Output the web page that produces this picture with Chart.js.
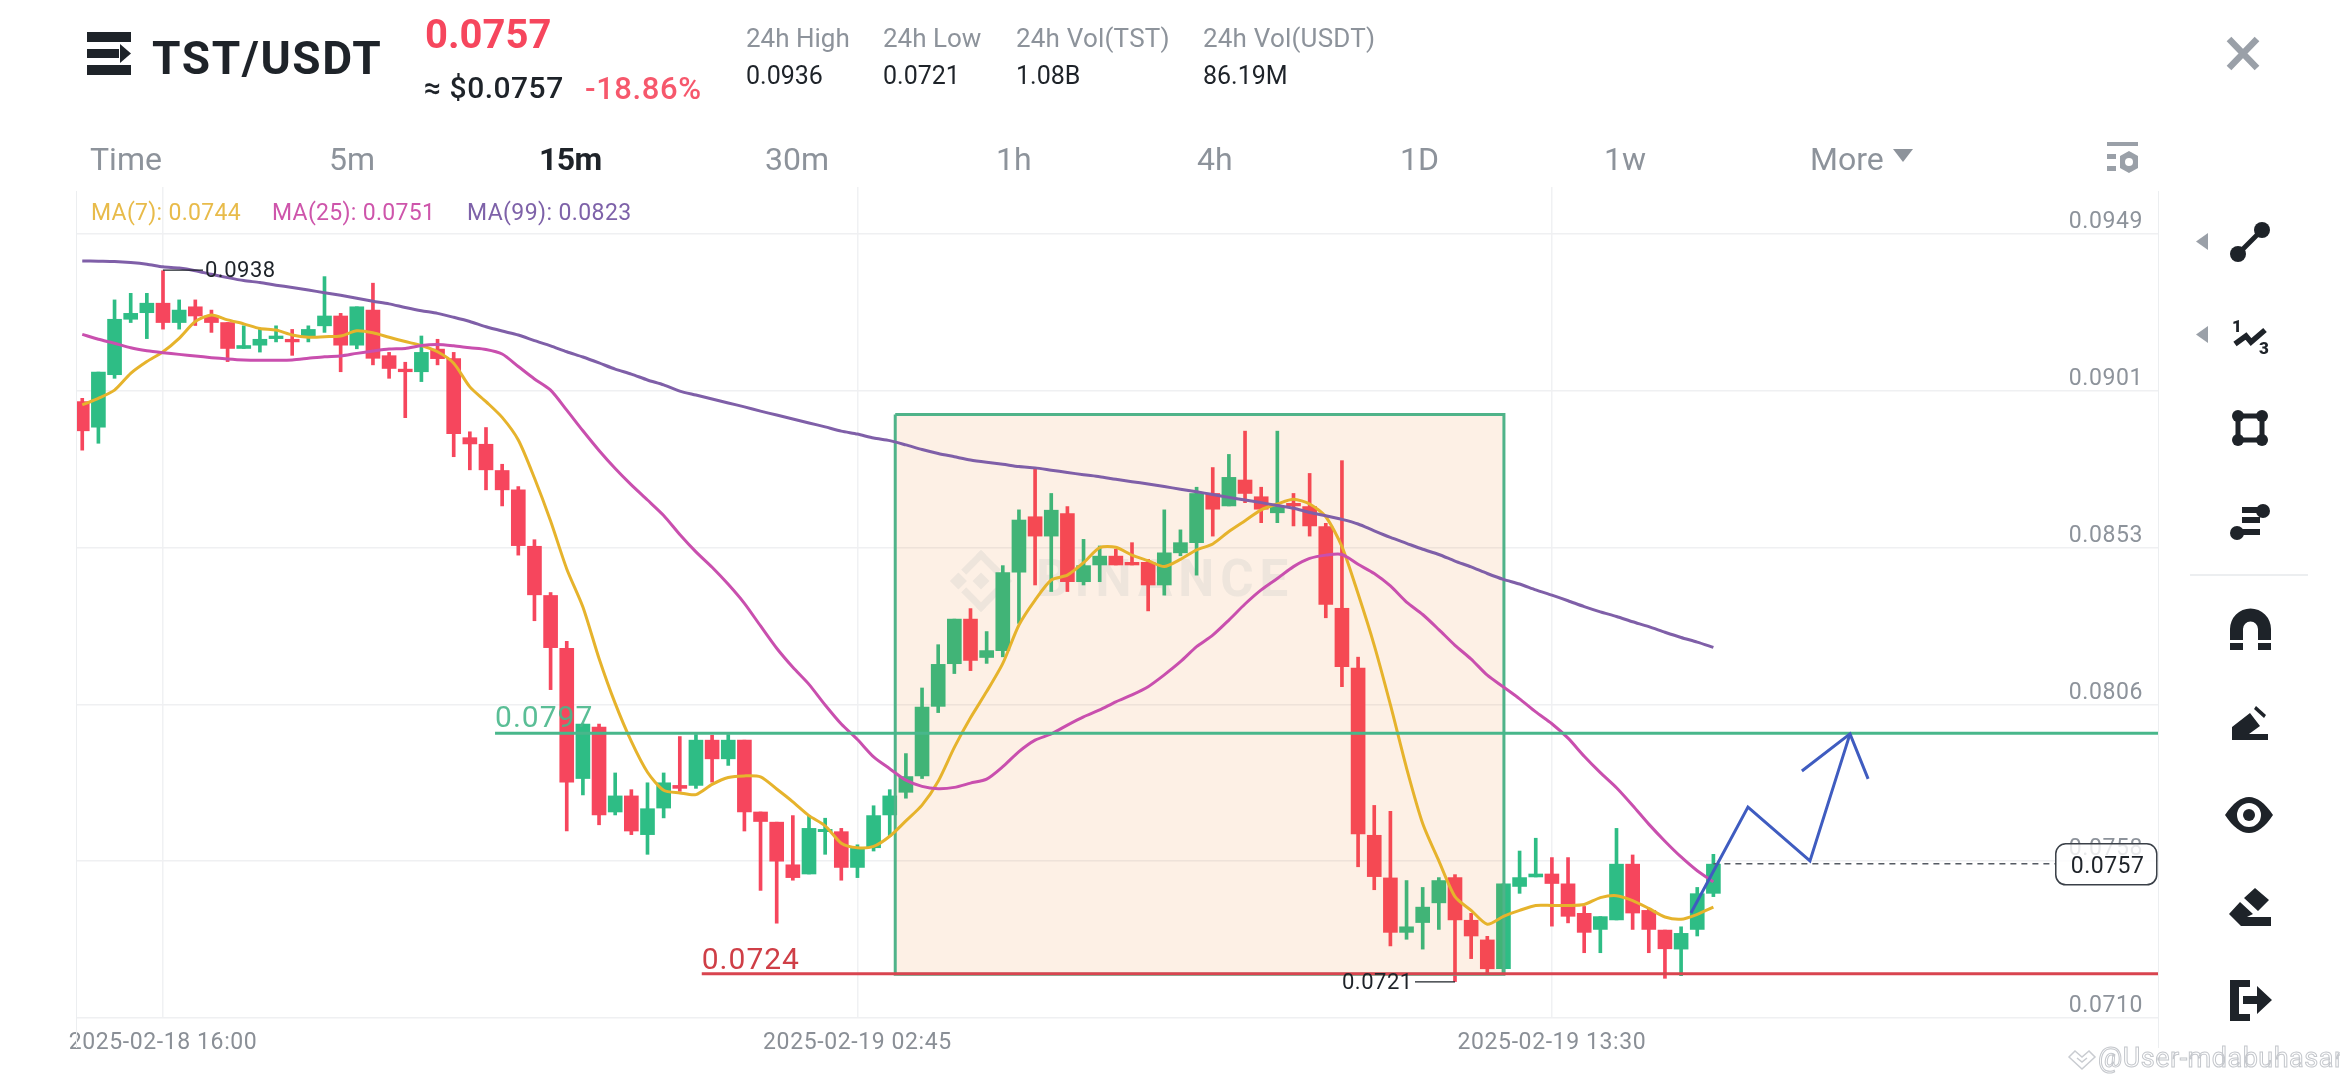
<!DOCTYPE html>
<html>
<head>
<meta charset="utf-8">
<title>TST/USDT</title>
<script src="https://cdn.jsdelivr.net/npm/chart.js@4/dist/chart.umd.min.js"></script>
<style>
  html, body { margin: 0; padding: 0; background: #fff; }
  body { width: 2340px; height: 1080px; position: relative; overflow: hidden; font-family: Roboto, sans-serif; color: #1e2329; }
  canvas { position: absolute; left: 0; top: 0; }
  .t { position: absolute; white-space: nowrap; line-height: 1; }
  .gray { color: #8d939b; }
  .red { color: #f6465d; }
  svg { position: absolute; overflow: visible; }
  .rule { position: absolute; background: #eceef0; }
</style>
</head>
<body>
<canvas id="chart" width="2340" height="1080"></canvas>

<div class="rule" style="left:76px;top:191px;width:1px;height:857px"></div>
<div class="rule" style="left:2158px;top:191px;width:1px;height:857px"></div>
<div class="rule" style="left:2190px;top:574px;width:118px;height:2px"></div>

<svg style="left:87px;top:32px" width="44" height="43" fill="#1e2329">
  <rect width="44" height="10"/><rect y="33" width="44" height="10"/><rect y="17" width="32" height="9"/><path d="M33 12l11 9.500-11 9.500z"/>
</svg>
<div class="t" style="left:152px;top:35px;font-size:46px;font-weight:700;letter-spacing:1.600px">TST/USDT</div>
<div class="t red" style="left:425px;top:15px;font-size:40px;font-weight:700">0.0757</div>
<div class="t" style="left:424px;top:73px;font-size:30px;font-weight:500;letter-spacing:.5px">≈ $0.0757</div>
<div class="t red" style="left:585px;top:73px;font-size:31px;font-weight:500;letter-spacing:.6px;opacity:.9">-18.86%</div>

<div class="t gray" style="left:746px;top:25px;font-size:26px">24h High</div>
<div class="t gray" style="left:883px;top:25px;font-size:26px">24h Low</div>
<div class="t gray" style="left:1016px;top:25px;font-size:26px;letter-spacing:.2px">24h Vol(TST)</div>
<div class="t gray" style="left:1203px;top:25px;font-size:26px;letter-spacing:.2px">24h Vol(USDT)</div>
<div class="t" style="left:746px;top:63px;font-size:25px">0.0936</div>
<div class="t" style="left:883px;top:63px;font-size:25px">0.0721</div>
<div class="t" style="left:1016px;top:63px;font-size:25px">1.08B</div>
<div class="t" style="left:1203px;top:63px;font-size:25px">86.19M</div>

<div class="t gray" style="left:90px;top:143px;font-size:32px">Time</div>
<div class="t gray" style="left:329px;top:143px;font-size:32px">5m</div>
<div class="t" style="left:539px;top:143px;font-size:32px;font-weight:700;letter-spacing:-.6px">15m</div>
<div class="t gray" style="left:765px;top:143px;font-size:32px">30m</div>
<div class="t gray" style="left:996px;top:143px;font-size:32px">1h</div>
<div class="t gray" style="left:1197px;top:143px;font-size:32px">4h</div>
<div class="t gray" style="left:1400px;top:143px;font-size:32px">1D</div>
<div class="t gray" style="left:1604px;top:143px;font-size:32px">1w</div>
<div class="t gray" style="left:1810px;top:143px;font-size:32px">More</div>
<svg style="left:1893px;top:149px" width="22" height="14" fill="#8d939b"><path d="M0 0h20l-10 13z"/></svg>
<svg style="left:2107px;top:142px" width="31" height="31" fill="#9aa0a8">
  <rect width="31" height="4"/><rect y="12" width="9" height="5"/><rect y="24" width="9" height="5"/>
  <path d="M22 9l9 5v12l-9 5-9-5V14zM22 16a4 4 0 100 8 4 4 0 000-8z" fill-rule="evenodd"/>
</svg>

<div class="t" style="left:91px;top:201px;font-size:23px;letter-spacing:.3px;color:#e8bb4a">MA(7): 0.0744</div>
<div class="t" style="left:272px;top:201px;font-size:23px;letter-spacing:.3px;color:#ce55ab">MA(25): 0.0751</div>
<div class="t" style="left:467px;top:201px;font-size:23px;letter-spacing:.4px;color:#7e62a9">MA(99): 0.0823</div>

<svg style="left:2227px;top:37px" width="32" height="33" stroke="#9aa0a8" stroke-width="6.500"><path d="M2 2l28 29M30 2L2 31"/></svg>
<svg style="left:2196px;top:233px" width="12" height="18" fill="#9aa0a8"><path d="M12 0v17L0 8.500z"/></svg>
<svg style="left:2196px;top:326px" width="12" height="18" fill="#9aa0a8"><path d="M12 0v17L0 8.500z"/></svg>
<svg style="left:2230px;top:222px" width="40" height="40" fill="#1e2329">
  <circle cx="8" cy="32" r="8"/><circle cx="32" cy="8" r="8"/><path d="M7 31l24-24 2 2-24 24z" stroke="#1e2329" stroke-width="2"/>
</svg>
<svg style="left:2232px;top:318px" width="38" height="38" fill="#1e2329">
  <path d="M3 26l11-8 5 6 14-12" fill="none" stroke="#1e2329" stroke-width="5.500"/>
  <text x="0" y="14" font-size="17" font-weight="900" font-family="Roboto">1</text>
  <text x="27" y="36" font-size="17" font-weight="900" font-family="Roboto">3</text>
</svg>
<svg style="left:2232px;top:410px" width="36" height="36" fill="none" stroke="#1e2329" stroke-width="5">
  <rect x="6" y="6" width="24" height="24"/>
  <g fill="#1e2329" stroke="none"><circle cx="6" cy="6" r="6"/><circle cx="30" cy="6" r="6"/><circle cx="6" cy="30" r="6"/><circle cx="30" cy="30" r="6"/></g>
</svg>
<svg style="left:2230px;top:504px" width="40" height="36" fill="#1e2329">
  <circle cx="33" cy="7" r="7"/><circle cx="7" cy="29" r="7"/><rect x="12" y="3" width="18" height="6"/><rect x="12" y="13" width="18" height="6"/><rect x="10" y="25" width="20" height="6"/>
</svg>
<svg style="left:2230px;top:609px" width="41" height="41" fill="#1e2329">
  <path d="M0 20a20.500 20.500 0 0141 0v11H28V20a7.500 7.500 0 00-15 0v11H0z"/><rect y="34" width="13" height="7"/><rect x="28" y="34" width="13" height="7"/>
</svg>
<svg style="left:2232px;top:706px" width="36" height="34" fill="#1e2329">
  <path d="M0 34V21L18 7l10 13-11 8h19v6z"/><path d="M24 0l10 9-2 3-10-9z"/>
</svg>
<svg style="left:2225px;top:797px" width="48" height="36" fill="#1e2329">
  <path d="M0 18C8 6 16 0 24 0s16 6 24 18c-8 12-16 18-24 18S8 30 0 18zM24 6a12 12 0 100 24 12 12 0 000-24z" fill-rule="evenodd"/><circle cx="24" cy="18" r="6"/>
</svg>
<svg style="left:2229px;top:888px" width="42" height="38" fill="#1e2329">
  <path d="M26 0l14 12-11 11-14-13zM11 14l13 12-6 3h24v9H12L0 26z"/>
</svg>
<svg style="left:2230px;top:980px" width="42" height="41" fill="#1e2329">
  <path d="M0 0h20v7H9v27h11v7H0z"/><path d="M13 16h14V6l15 14-15 14V24H13z"/>
</svg>

<svg style="left:2068px;top:1048px" width="28" height="22" fill="none" stroke="#c9ccd1" stroke-width="1.500">
  <path d="M1 9l6-6 7 6 7-6 6 6-13 12zM9 10l5 4 5-4"/>
</svg>
<div class="t" style="left:2098px;top:1045px;font-size:27px;color:#fff;-webkit-text-stroke:1px #c4c7cc;letter-spacing:.5px">@User-mdabuhasan</div>

<script>
// candles, 15m, 2025-02-18 15:00 (index 0) onwards
var opens = [
  0.08979,0.08901,0.09061,0.09230,0.09250,0.09279,0.09220,0.09268,0.09240,0.09220,
  0.09141,0.09151,0.09171,0.09169,0.09179,0.09210,0.09240,0.09151,0.09258,0.09119,
  0.09078,0.09070,0.09139,0.09110,0.08869,0.08849,0.08769,0.08710,0.08538,0.08388,
  0.08227,0.07830,0.07987,0.07728,0.07777,0.07659,0.07740,0.07809,0.07809,0.07947,
  0.07890,0.07947,0.07728,0.07697,0.07567,0.07539,0.07668,0.07668,0.07559,0.07619,
  0.07719,0.07788,0.07838,0.08050,0.08180,0.08316,0.08199,0.08220,0.08459,0.08628,
  0.08569,0.08638,0.08430,0.08481,0.08508,0.08489,0.08489,0.08420,0.08518,0.08549,
  0.08699,0.08661,0.08740,0.08689,0.08640,0.08669,0.08659,0.08598,0.08349,0.08167,
  0.07657,0.07527,0.07361,0.07391,0.07451,0.07528,0.07398,0.07338,0.07250,0.07501,
  0.07530,0.07539,0.07509,0.07419,0.07370,0.07399,0.07569,0.07428,0.07368,0.07310,
  0.07370,0.07480]
var highs = [
  0.08989,0.09069,0.09289,0.09309,0.09309,0.09378,0.09289,0.09289,0.09258,0.09220,
  0.09210,0.09199,0.09210,0.09199,0.09210,0.09360,0.09248,0.09268,0.09340,0.09129,
  0.09099,0.09179,0.09169,0.09129,0.08887,0.08900,0.08788,0.08720,0.08558,0.08397,
  0.08248,0.07996,0.07996,0.07847,0.07796,0.07817,0.07847,0.07958,0.07964,0.07962,
  0.07964,0.07947,0.07728,0.07697,0.07717,0.07717,0.07709,0.07678,0.07628,0.07747,
  0.07796,0.07906,0.08106,0.08238,0.08316,0.08348,0.08278,0.08479,0.08649,0.08775,
  0.08699,0.08659,0.08559,0.08539,0.08529,0.08549,0.08498,0.08649,0.08588,0.08718,
  0.08778,0.08818,0.08889,0.08718,0.08889,0.08699,0.08760,0.08608,0.08799,0.08200,
  0.07748,0.07730,0.07519,0.07498,0.07528,0.07537,0.07419,0.07349,0.07509,0.07609,
  0.07648,0.07589,0.07589,0.07440,0.07409,0.07678,0.07597,0.07434,0.07368,0.07378,
  0.07498,0.07599]
var lows = [
  0.08831,0.08852,0.09050,0.09220,0.09171,0.09200,0.09200,0.09211,0.09190,0.09101,
  0.09141,0.09130,0.09161,0.09120,0.09161,0.09190,0.09070,0.09140,0.09091,0.09050,
  0.08930,0.09040,0.09091,0.08811,0.08771,0.08710,0.08661,0.08511,0.08311,0.08101,
  0.07670,0.07780,0.07689,0.07719,0.07659,0.07599,0.07710,0.07791,0.07800,0.07819,
  0.07870,0.07670,0.07489,0.07389,0.07520,0.07539,0.07599,0.07520,0.07528,0.07609,
  0.07654,0.07770,0.07830,0.08031,0.08150,0.08159,0.08181,0.08201,0.08303,0.08420,
  0.08400,0.08400,0.08420,0.08430,0.08481,0.08481,0.08341,0.08389,0.08509,0.08450,
  0.08569,0.08661,0.08671,0.08610,0.08610,0.08600,0.08569,0.08320,0.08110,0.07561,
  0.07491,0.07320,0.07340,0.07310,0.07370,0.07211,0.07281,0.07235,0.07238,0.07480,
  0.07530,0.07380,0.07390,0.07299,0.07299,0.07399,0.07370,0.07299,0.07221,0.07229,
  0.07350,0.07470]
var closes = [
  0.08890,0.09069,0.09230,0.09248,0.09279,0.09220,0.09258,0.09240,0.09220,0.09141,
  0.09150,0.09169,0.09179,0.09161,0.09199,0.09240,0.09151,0.09268,0.09111,0.09080,
  0.09070,0.09129,0.09110,0.08881,0.08850,0.08771,0.08710,0.08540,0.08390,0.08229,
  0.07819,0.07996,0.07719,0.07777,0.07670,0.07738,0.07817,0.07800,0.07947,0.07890,
  0.07947,0.07728,0.07699,0.07578,0.07528,0.07678,0.07675,0.07559,0.07617,0.07717,
  0.07777,0.07836,0.08048,0.08178,0.08316,0.08190,0.08220,0.08458,0.08618,0.08569,
  0.08648,0.08430,0.08479,0.08508,0.08481,0.08481,0.08420,0.08518,0.08549,0.08699,
  0.08651,0.08748,0.08699,0.08651,0.08659,0.08661,0.08600,0.08361,0.08171,0.07661,
  0.07531,0.07361,0.07378,0.07438,0.07519,0.07399,0.07350,0.07250,0.07509,0.07528,
  0.07539,0.07510,0.07410,0.07361,0.07409,0.07569,0.07420,0.07370,0.07311,0.07358,
  0.07479,0.07569]

var ma7 = [
  0.08969,0.08989,0.09014,0.09065,0.09101,0.09131,0.09172,0.09223,0.09243,0.09228,
  0.09216,0.09202,0.09197,0.09182,0.09175,0.09177,0.09179,0.09195,0.09189,0.09175,
  0.09162,0.09150,0.09131,0.09096,0.09024,0.08979,0.08931,0.08862,0.08746,0.08615,
  0.08469,0.08353,0.08196,0.08059,0.07943,0.07849,0.07794,0.07786,0.07781,0.07812,
  0.07833,0.07838,0.07835,0.07798,0.07759,0.07717,0.07686,0.07633,0.07619,0.07623,
  0.07654,0.07701,0.07749,0.07822,0.07925,0.08015,0.08095,0.08181,0.08298,0.08374,
  0.08435,0.08450,0.08488,0.08534,0.08535,0.08511,0.08494,0.08476,0.08498,0.08527,
  0.08545,0.08583,0.08616,0.08649,0.08667,0.08681,0.08667,0.08628,0.08537,0.08393,
  0.08236,0.08055,0.07862,0.07693,0.07579,0.07470,0.07428,0.07386,0.07410,0.07428,
  0.07443,0.07443,0.07443,0.07446,0.07467,0.07473,0.07458,0.07434,0.07408,0.07401,
  0.07416,0.07438]
var ma25 = [
  0.09184,0.09169,0.09157,0.09143,0.09134,0.09128,0.09123,0.09118,0.09113,0.09109,
  0.09106,0.09105,0.09105,0.09106,0.09111,0.09116,0.09118,0.09126,0.09133,0.09139,
  0.09141,0.09150,0.09153,0.09149,0.09143,0.09138,0.09124,0.09086,0.09048,0.09014,
  0.08953,0.08890,0.08830,0.08775,0.08725,0.08679,0.08632,0.08574,0.08521,0.08474,
  0.08422,0.08364,0.08295,0.08227,0.08169,0.08117,0.08054,0.07996,0.07949,0.07896,
  0.07860,0.07825,0.07806,0.07799,0.07803,0.07816,0.07828,0.07866,0.07912,0.07947,
  0.07966,0.07993,0.08018,0.08039,0.08064,0.08085,0.08110,0.08146,0.08186,0.08232,
  0.08267,0.08313,0.08362,0.08405,0.08440,0.08476,0.08501,0.08511,0.08513,0.08483,
  0.08455,0.08417,0.08368,0.08330,0.08284,0.08236,0.08194,0.08145,0.08109,0.08073,
  0.08033,0.07997,0.07953,0.07898,0.07848,0.07802,0.07748,0.07691,0.07639,0.07591,
  0.07549,0.07515]
var ma99 = [
  0.09408,0.09407,0.09406,0.09403,0.09398,0.09390,0.09386,0.09378,0.09367,0.09357,
  0.09348,0.09342,0.09334,0.09327,0.09319,0.09311,0.09303,0.09294,0.09285,0.09277,
  0.09266,0.09256,0.09248,0.09236,0.09223,0.09207,0.09194,0.09182,0.09165,0.09149,
  0.09131,0.09115,0.09097,0.09078,0.09063,0.09045,0.09030,0.09011,0.08999,0.08987,
  0.08975,0.08963,0.08950,0.08938,0.08926,0.08914,0.08902,0.08889,0.08880,0.08868,
  0.08860,0.08847,0.08833,0.08821,0.08811,0.08801,0.08794,0.08788,0.08781,0.08777,
  0.08770,0.08763,0.08756,0.08750,0.08742,0.08735,0.08728,0.08720,0.08712,0.08704,
  0.08696,0.08687,0.08679,0.08671,0.08662,0.08654,0.08641,0.08631,0.08620,0.08606,
  0.08585,0.08565,0.08547,0.08529,0.08513,0.08493,0.08475,0.08455,0.08437,0.08423,
  0.08405,0.08389,0.08372,0.08354,0.08338,0.08324,0.08308,0.08293,0.08276,0.08260,
  0.08246,0.08230]

var yTickValues = [0.0949, 0.09012, 0.08534, 0.08056, 0.07578, 0.0710]
var xTickIndex = [5, 48, 91]
var xTickLabels = ["2025-02-18 16:00", "2025-02-19 02:45", "2025-02-19 13:30"]

// hand drawn tools on the chart, in candle index / price
var boxX = [50.34, 88.03]
var boxY = [0.08940, 0.07233]
var greenLevel = 0.07968
var greenLevelStart = 25.56
var redLevel = 0.07235
var redLevelStart = 38.36
var zigzagX = [99.61, 103.14, 106.98, 109.46]
var zigzagY = [0.07420, 0.07743, 0.07579, 0.07966]
var arrowX = [106.48, 109.46, 110.58]
var arrowY = [0.07853, 0.07966, 0.07829]
var lastPrice = 0.0757
var lastLineEnd = 122.2
var highMark = { index: 5, price: 0.0938 }
var lowMark = { index: 85, price: 0.0721 }

var xMin = -0.387, xMax = 128.53
var yMin = 0.0710, yMax = 0.096332

var UP = "#2ebd85", DOWN = "#f6465d"

var pts = function(xs, ys) {
  return xs.map(function(x, i) { return { x: x, y: ys[i] } })
}
var idx = opens.map(function(o, i) { return i })
var candleColors = idx.map(function(i) { return closes[i] > opens[i] ? UP : DOWN })

var lineSet = function(data, color, width, order, extra) {
  return Object.assign({
    type: "line", data: data, borderColor: color, borderWidth: width,
    pointRadius: 0, order: order, fill: false, tension: 0
  }, extra || {})
}

var datasets = [
  { type: "bar", order: 7, data: idx.map(function(i) { return { x: i, y: [lows[i], highs[i]] } }),
    backgroundColor: candleColors, barThickness: 3, grouped: false },
  { type: "bar", order: 6, data: idx.map(function(i) { return { x: i, y: [Math.min(opens[i], closes[i]), Math.max(opens[i], closes[i])] } }),
    backgroundColor: candleColors, barThickness: 14, grouped: false },
  lineSet([
    { x: boxX[0], y: boxY[0] }, { x: boxX[1], y: boxY[0] }, { x: boxX[1], y: boxY[1] },
    { x: boxX[0], y: boxY[1] }, { x: boxX[0], y: boxY[0] }
  ], "#4fb389", 3, 5, { fill: "shape", backgroundColor: "rgba(235,105,0,0.1)" }),
  lineSet(pts(idx, ma99), "#7f5fa8", 3, 4, { tension: 0.25 }),
  lineSet(pts(idx, ma25), "#c94fae", 3, 4, { tension: 0.25 }),
  lineSet(pts(idx, ma7), "#e6b32c", 3, 4, { tension: 0.25 }),
  lineSet(pts([greenLevelStart, xMax], [greenLevel, greenLevel]), "#48b78b", 3, 3),
  lineSet(pts([redLevelStart, xMax], [redLevel, redLevel]), "#d9444f", 3, 3),
  lineSet(pts([idx.length - 1, lastLineEnd], [lastPrice, lastPrice]), "#555b63", 1.5, 2, { borderDash: [6, 5] }),
  lineSet(pts(zigzagX, zigzagY), "#3f5cc0", 3, 1),
  lineSet(pts(arrowX, arrowY), "#3f5cc0", 3, 1)
]

var watermark = {
  id: "watermark",
  beforeDraw: function(chart) {
    chart.ctx.letterSpacing = "0.6px"
  },
  beforeDatasetsDraw: function(chart) {
    var c = chart.ctx
    c.save()
    c.fillStyle = "#eff3f5"
    c.translate(981, 581)
    c.rotate(Math.PI / 4)
    c.fillRect(-6, -6, 12, 12)
    c.fillRect(-22, -22, 28, 7); c.fillRect(-22, -22, 7, 28)
    c.fillRect(-6, 15, 28, 7); c.fillRect(15, -6, 7, 28)
    c.fillRect(-22, 10, 12, 12); c.fillRect(10, -22, 12, 12)
    c.restore()
    c.save()
    c.fillStyle = "#eff3f5"
    c.font = "700 51px Roboto"
    c.letterSpacing = "6px"
    c.textBaseline = "middle"
    c.fillText("BINANCE", 1036, 583)
    c.restore()
  }
}

var marks = {
  id: "marks",
  afterDatasetsDraw: function(chart) {
    var c = chart.ctx, x = chart.scales.x, y = chart.scales.y
    c.save()
    c.textBaseline = "alphabetic"

    // level labels sit on their lines
    c.font = "30px Roboto"
    c.letterSpacing = "1px"
    c.fillStyle = "rgba(72,183,139,0.9)"
    c.fillText(greenLevel.toFixed(4), x.getPixelForValue(greenLevelStart), y.getPixelForValue(greenLevel) - 6)
    c.fillStyle = "#cf3f47"
    c.fillText("0.0724", x.getPixelForValue(redLevelStart), y.getPixelForValue(redLevel) - 5)

    // high / low leaders
    c.font = "22px Roboto"
    c.letterSpacing = "0.5px"
    c.fillStyle = "#1e2329"
    c.strokeStyle = "#1e2329"
    c.lineWidth = 1.2
    c.textBaseline = "middle"
    var hx = x.getPixelForValue(highMark.index), hy = y.getPixelForValue(highMark.price)
    c.beginPath(); c.moveTo(hx, hy); c.lineTo(hx + 40, hy); c.stroke()
    c.fillText(highMark.price.toFixed(4), hx + 42, hy + 1)
    var lx = x.getPixelForValue(lowMark.index), ly = y.getPixelForValue(lowMark.price)
    c.beginPath(); c.moveTo(lx, ly); c.lineTo(lx - 40, ly); c.stroke()
    c.fillText(lowMark.price.toFixed(4), lx - 113, ly + 2)

    // last price box
    var py = y.getPixelForValue(lastPrice)
    c.fillStyle = "rgba(255,255,255,0.8)"
    c.strokeStyle = "#3a4048"
    c.lineWidth = 1.5
    c.beginPath()
    c.roundRect(x.getPixelForValue(lastLineEnd), py - 20, 101, 41, 10)
    c.fill(); c.stroke()
    c.fillStyle = "#1e2329"
    c.font = "23px Roboto"
    c.fillText(lastPrice.toFixed(4), x.getPixelForValue(lastLineEnd) + 15, py + 3)
    c.restore()
  }
}

var chart = new Chart(document.getElementById("chart"), {
  type: "bar",
  data: { datasets: datasets },
  plugins: [watermark, marks],
  options: {
    responsive: false,
    animation: false,
    devicePixelRatio: 1,
    layout: { padding: { left: 76, right: 182, top: 187, bottom: 0 } },
    plugins: { legend: { display: false }, tooltip: { enabled: false } },
    scales: {
      x: {
        type: "linear", min: xMin, max: xMax, offset: false,
        afterBuildTicks: function(scale) { scale.ticks = xTickIndex.map(function(v) { return { value: v } }) },
        afterFit: function(scale) { scale.height = 62 },
        grid: { color: "#f0f1f3", lineWidth: 1.5, drawTicks: false, offset: false },
        border: { display: false },
        ticks: {
          autoSkip: false, maxRotation: 0, padding: 11, color: "#8a8f96",
          font: { family: "Roboto", size: 23 },
          callback: function(v) { return xTickLabels[xTickIndex.indexOf(v)] }
        }
      },
      y: {
        type: "linear", position: "right", min: yMin, max: yMax,
        afterBuildTicks: function(scale) { scale.ticks = yTickValues.map(function(v) { return { value: v } }) },
        afterFit: function(scale) { scale.width = 0 },
        grid: { color: "#eff0f2", lineWidth: 1.5, drawTicks: false },
        border: { display: false },
        ticks: {
          mirror: true, align: "end", padding: -15, color: "#8d939b",
          font: { family: "Roboto", size: 23 },
          callback: function(v) { return v.toFixed(4) }
        }
      }
    }
  }
})
</script>
</body>
</html>
